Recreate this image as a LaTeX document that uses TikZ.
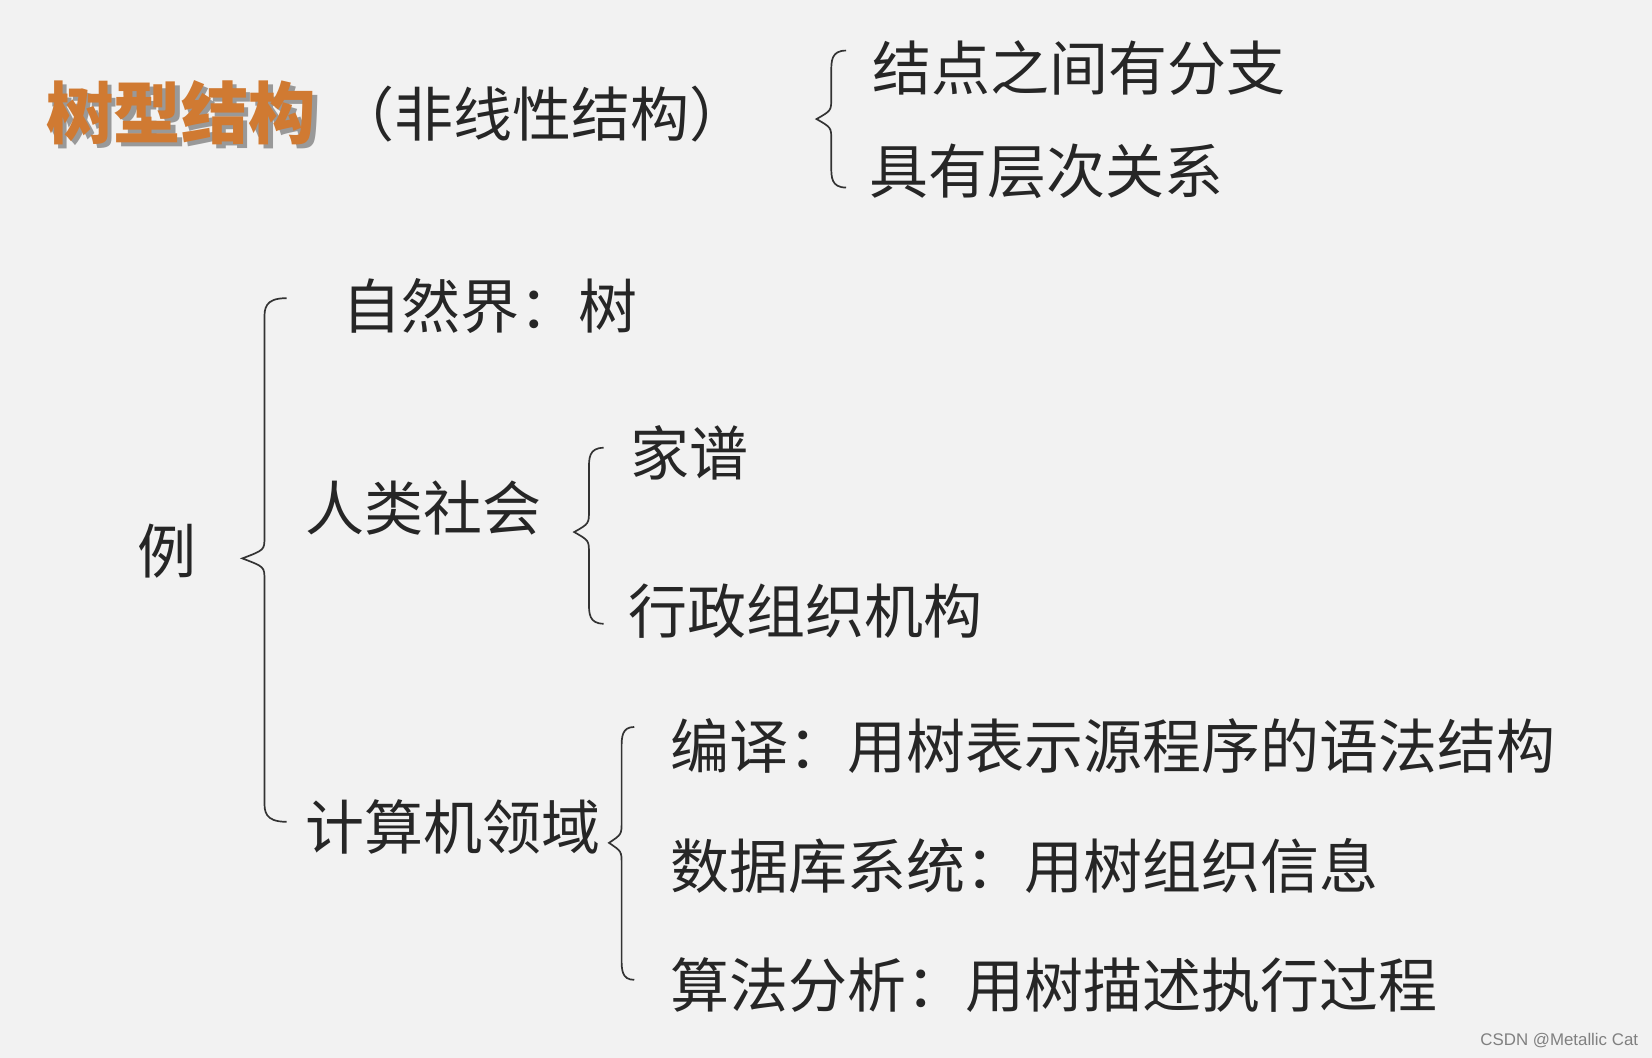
\documentclass[tikz,border=0pt]{standalone}
\usepackage{fontspec}
\setmainfont{Noto Sans CJK SC}
\setsansfont{Liberation Sans}
\begin{document}
\begin{tikzpicture}[x=1pt,y=-1pt,
  t/.style={anchor=west,inner sep=0pt,font=\fontsize{56}{60}\selectfont,text=black!85},
  br/.style={draw=black!80,line width=1.6pt}]
\fill[black!5] (0,0) rectangle (1568,1004);
\useasboundingbox (0,0) rectangle (1568,1004);
\newcommand\mybrace[5]{% x, top, mid, bottom, width
  \draw[br] (#1+#5,#2) .. controls (#1+#5*0.5,#2) and (#1+#5*0.5,#2+10) .. (#1+#5*0.5,#2+20)
   -- (#1+#5*0.5,#3-20) .. controls (#1+#5*0.5,#3-8) .. (#1,#3)
   .. controls (#1+#5*0.5,#3+8) .. (#1+#5*0.5,#3+20)
   -- (#1+#5*0.5,#4-20) .. controls (#1+#5*0.5,#4-10) and (#1+#5*0.5,#4) .. (#1+#5,#4);}
\node[t,font=\fontsize{64}{68}\selectfont\bfseries,text=black!40] at (48,111) {树型结构};
\node[t,font=\fontsize{64}{68}\selectfont\bfseries,text={rgb,255:red,208;green,122;blue,50}] (title) at (44,107) {树型结构};
\node[t] (sub) at (318,108) {（非线性结构）};
\mybrace{775}{48}{113}{178}{28}
\node[t] (a1) at (828,65) {结点之间有分支};
\node[t] (a2) at (825,163) {具有层次关系};
\node[t] (li) at (130,523) {例};
\mybrace{230}{283}{530}{780}{42}
\node[t] (b1) at (325,290) {自然界：树};
\node[t] (b2) at (290,482) {人类社会};
\mybrace{545}{425}{505}{592}{28}
\node[t] (c1) at (598,430) {家谱};
\node[t] (c2) at (596,580) {行政组织机构};
\node[t] (b3) at (290,785) {计算机领域};
\mybrace{578}{690}{800}{930}{24}
\node[t] (d1) at (636,708) {编译：用树表示源程序的语法结构};
\node[t] (d2) at (636,822) {数据库系统：用树组织信息};
\node[t] (d3) at (636,935) {算法分析：用树描述执行过程};
\node[anchor=east,inner sep=0pt,font=\sffamily\fontsize{16}{18}\selectfont,text=black!50] (w) at (1555,988) {CSDN @Metallic Cat};
\end{tikzpicture}
\end{document}
